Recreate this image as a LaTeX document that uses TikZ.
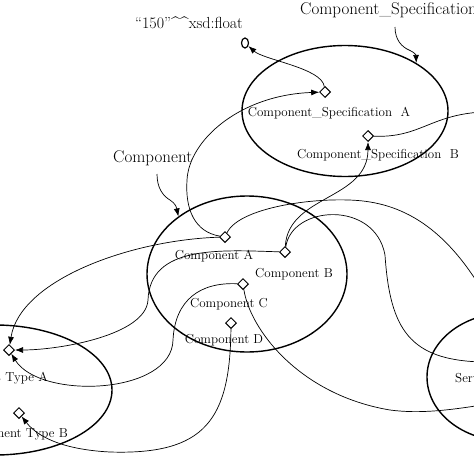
\documentclass[tikz,border=0pt]{standalone}
\usepackage{tikz}
\usetikzlibrary{arrows.meta, positioning, shapes.geometric}

\tikzset{
    set/.style = {draw, ellipse, line width=1.4pt, inner sep=0pt},
    prop/.style = {draw, diamond, aspect=1, minimum size=11pt, inner sep=0pt, line width=1pt, fill=white},
    lit/.style = {draw, ellipse, minimum width=7pt, minimum height=10pt, inner sep=0pt, line width=1.2pt},
    lbl/.style = {inner sep=0pt, font=\fontsize{13}{15}\selectfont},
    title/.style = {inner sep=0pt, font=\fontsize{17}{20}\selectfont},
    rel/.style = {line width=0.7pt, -{Latex[length=8pt,width=6pt]}},
    link/.style = {line width=0.7pt},
}

\begin{document}
\begin{tikzpicture} [x=1pt, y=-1pt, on grid]
        \useasboundingbox (0,0) rectangle (474,474);

        % the sets
        \node (specEll) [set, minimum width=206pt, minimum height=131pt] at (345,111) {};
        \node (compEll) [set, minimum width=200pt, minimum height=156pt] at (247,274) {};
        \node (typeEll) [set, minimum width=234pt, minimum height=130pt] at (-5,390) {};
        \node (svcEll) [set, minimum width=160pt, minimum height=128pt] at (507,377) {};

        \node (specTitle) [title, anchor=base west] at (300,14) {Component\_Specification};
        \node (compTitle) [title, anchor=base west] at (113,162) {Component};
        \node (litTitle) [title, font=\fontsize{16}{19}\selectfont, anchor=base west] at (135,28) {“150”\textasciicircum\textasciicircum xsd:float};
        \node (lit) [lit] at (245,43) {};

        \node (specA) [prop] at (325,92) {};
        \node (specB) [prop] at (368,136) {};
        \node (compA) [prop] at (225,237) {};
        \node (compB) [prop] at (285,252) {};
        \node (compC) [prop] at (243,284) {};
        \node (compD) [prop] at (231,323) {};
        \node (typeA) [prop] at (9,350) {};
        \node (typeB) [prop] at (19,413) {};

        \node (specALbl) [lbl, below=21pt of specA, xshift=4pt] {Component\_Specification~~A};
        \node (specBLbl) [lbl, below=19pt of specB, xshift=10pt] {Component\_Specification~~B};
        \node (compALbl) [lbl, below=19pt of compA, xshift=-11pt] {Component A};
        \node (compBLbl) [lbl, below=22pt of compB, xshift=9pt] {Component B};
        \node (compCLbl) [lbl, below=20pt of compC, xshift=-14pt] {Component C};
        \node (compDLbl) [lbl, below=17pt of compD, xshift=-7pt] {Component D};
        \node (typeALbl) [lbl, below=28pt of typeA, anchor=east, xshift=39pt] {Component Type A};
        \node (typeBLbl) [lbl, below=21pt of typeB, anchor=east, xshift=49pt] {Component Type B};
        \node (svcLbl) [lbl, anchor=west] at (455,378) {Service};

        \coordinate (specTail) at (395,27);
        \coordinate (compTail) at (157,174);
        \coordinate (specOut) at (482,112);
        \coordinate (compAOut) at (482,290);
        \coordinate (compBOut) at (482,362);
        \coordinate (compCOut) at (482,405);

        % set membership
        \draw [rel] (specTail) .. controls (395,40) and (402,47) .. (409,50) .. controls (414,52) and (416,55) .. (specEll.34);
        \draw [rel] (compTail) .. controls (157,188) and (163,196) .. (170,200) .. controls (174,203) and (176,205) .. (compEll.140);

        % properties
        \draw [rel] (specA) .. controls (322,68) and (264,60) .. (lit);
        \draw [rel] (compA) .. controls (195,232) and (185,210) .. (187,180) .. controls (189,140) and (240,95) .. (specA);
        \draw [rel] (compB) .. controls (288,195) and (368,200) .. (specB);
        \draw [link] (specB) .. controls (420,138) and (430,115) .. (specOut);
        \draw [rel] (compA) .. controls (130,240) and (20,280) .. (typeA);
        \draw [rel] (compB) .. controls (220,250) and (150,245) .. (148,300) .. controls (146,335) and (60,350) .. (typeA);
        \draw [link] (compB) .. controls (292,205) and (375,200) .. (385,255) .. controls (390,330) and (410,360) .. (compBOut);
        \draw [link] (compA) .. controls (240,205) and (330,195) .. (370,202) .. controls (420,210) and (455,245) .. (compAOut);
        \draw [link] (compC) .. controls (250,330) and (300,395) .. (390,410) .. controls (420,414) and (450,410) .. (compCOut);
        \draw [rel] (compC) .. controls (200,282) and (175,300) .. (173,340) .. controls (172,395) and (40,400) .. (typeA);
        \draw [rel] (compD) .. controls (230,420) and (205,455) .. (110,452) .. controls (70,450) and (40,440) .. (typeB);
    \end{tikzpicture}
\end{document}
